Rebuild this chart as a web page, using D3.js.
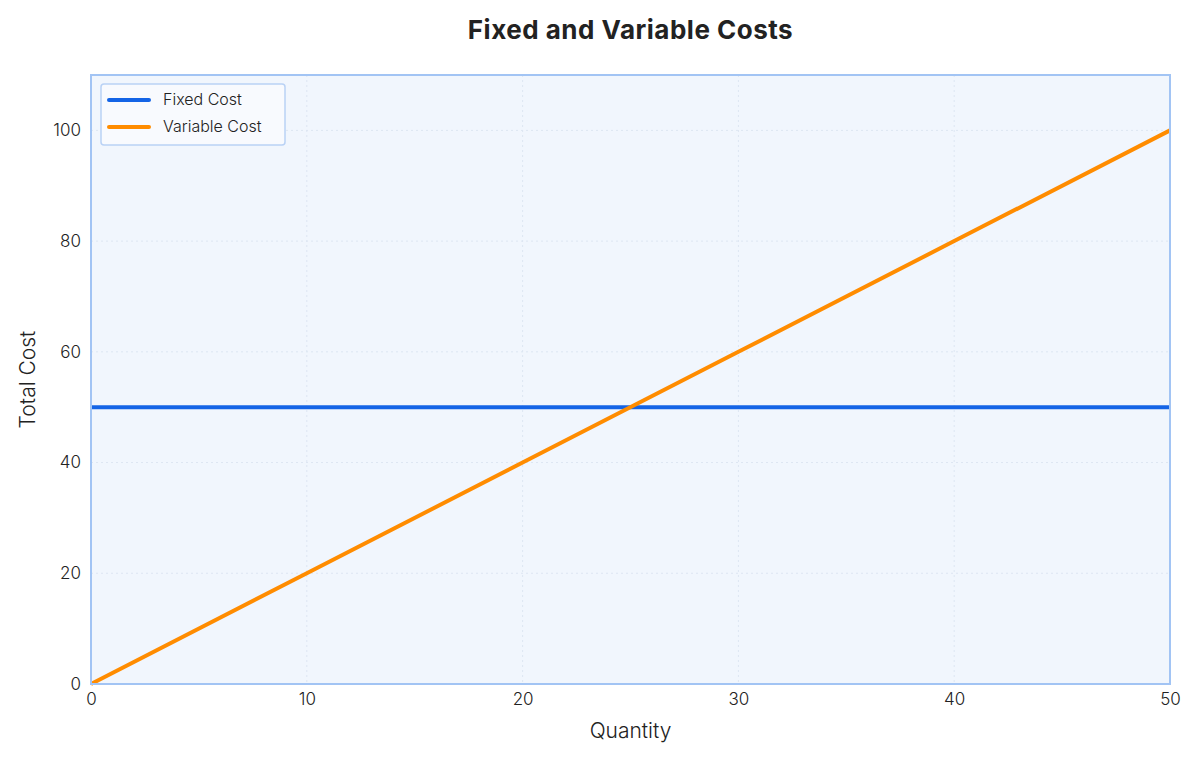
<!DOCTYPE html>
<html>
<head>
<meta charset="utf-8">
<script src="https://cdn.jsdelivr.net/npm/d3@7"></script>
<style>
  body { margin: 0; background: #fff; }
  text { font-family: Inter, "Noto Sans", sans-serif; fill: #222; }
</style>
</head>
<body>
<script>
const quantity = [0, 10, 20, 30, 40, 50];
const fixedCost = [50, 50, 50, 50, 50, 50];
const variableCost = [0, 20, 40, 60, 80, 100];
const xTicks = [0, 10, 20, 30, 40, 50];
const yTicks = [0, 20, 40, 60, 80, 100];
const seriesNames = ["Fixed Cost", "Variable Cost"];

const WIDTH = 1200;
const HEIGHT = 761;
const LEFT = 91, RIGHT = 1170, TOP = 75, BOTTOM = 684;

var svg = d3.select('body').append('svg')
    .attr('width', WIDTH)
    .attr('height', HEIGHT);

var xScale = d3.scaleLinear().domain([0, 50]).range([LEFT, RIGHT]);
var yScale = d3.scaleLinear().domain([0, 110]).range([BOTTOM, TOP]);

// plot background
svg.append('rect')
    .attr('x', LEFT).attr('y', TOP)
    .attr('width', RIGHT - LEFT).attr('height', BOTTOM - TOP)
    .attr('fill', '#f1f6fd');

// grid
svg.append('g').selectAll('line').data(xTicks.slice(1, -1))
    .enter().append('line')
    .attr('x1', d => xScale(d)).attr('x2', d => xScale(d))
    .attr('y1', TOP).attr('y2', BOTTOM)
    .attr('stroke', '#dde6f2').attr('stroke-width', 1)
    .attr('stroke-dasharray', '2,3');

svg.append('g').selectAll('line').data(yTicks.slice(1))
    .enter().append('line')
    .attr('x1', LEFT).attr('x2', RIGHT)
    .attr('y1', d => yScale(d)).attr('y2', d => yScale(d))
    .attr('stroke', '#dde6f2').attr('stroke-width', 1)
    .attr('stroke-dasharray', '2,3');

// axes (labels only)
var xAxis = svg.append('g')
    .attr('transform', 'translate(0,' + BOTTOM + ')')
    .call(d3.axisBottom(xScale).tickValues(xTicks).tickSize(0).tickPadding(9));
var yAxis = svg.append('g')
    .attr('transform', 'translate(' + LEFT + ',0)')
    .call(d3.axisLeft(yScale).tickValues(yTicks).tickSize(0).tickPadding(10));
[xAxis, yAxis].forEach(function (a) {
    a.select('.domain').remove();
    a.selectAll('text').style('font-size', '17px').style('fill', '#222')
        .style('font-weight', '300')
        .style('font-family', 'Inter, sans-serif');
});

// lines
var line = d3.line()
    .x(function (d, i) { return xScale(quantity[i]); })
    .y(function (d) { return yScale(d); });

svg.append('path')
    .attr('d', line(fixedCost))
    .attr('fill', 'none').attr('stroke', '#1464e6').attr('stroke-width', 4);

svg.append('path')
    .attr('d', line(variableCost))
    .attr('fill', 'none').attr('stroke', '#ff8c00').attr('stroke-width', 4);

// frame
svg.append('rect')
    .attr('x', LEFT).attr('y', TOP)
    .attr('width', RIGHT - LEFT).attr('height', BOTTOM - TOP)
    .attr('fill', 'none').attr('stroke', '#a2c4f4').attr('stroke-width', 2);

// title + axis labels
svg.append('text')
    .attr('x', (LEFT + RIGHT) / 2).attr('y', 39)
    .attr('text-anchor', 'middle')
    .style('font-size', '26px').style('font-weight', '700')
    .style('letter-spacing', '0.5px')
    .text('Fixed and Variable Costs');

svg.append('text')
    .attr('x', (LEFT + RIGHT) / 2).attr('y', 738)
    .attr('text-anchor', 'middle')
    .style('font-size', '21px').style('font-weight', '300')
    .text('Quantity');

svg.append('text')
    .attr('transform', 'translate(35,' + ((TOP + BOTTOM) / 2) + ') rotate(-90)')
    .attr('text-anchor', 'middle')
    .style('font-size', '21px').style('font-weight', '300')
    .text('Total Cost');

// legend
var legend = svg.append('g').attr('transform', 'translate(101,84)');
legend.append('rect')
    .attr('width', 184).attr('height', 61).attr('rx', 3)
    .attr('fill', '#f8fafe').attr('stroke', '#b9d2f5').attr('stroke-width', 1.5);
var colors = ['#1464e6', '#ff8c00'];
seriesNames.forEach(function (name, i) {
    var y = 16 + i * 27;
    legend.append('line')
        .attr('x1', 8).attr('x2', 48).attr('y1', y).attr('y2', y)
        .attr('stroke', colors[i]).attr('stroke-width', 4).attr('stroke-linecap', 'round');
    legend.append('text')
        .attr('x', 62).attr('y', y + 5)
        .style('font-size', '16px').style('font-weight', '300')
        .text(name);
});
</script>
</body>
</html>
